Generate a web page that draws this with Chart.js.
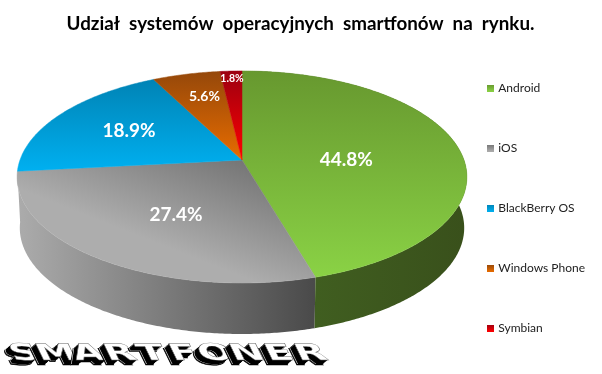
<!DOCTYPE html>
<html>
<head>
<meta charset="utf-8">
<script src="https://cdn.jsdelivr.net/npm/chart.js@4"></script>
<style>
    body { margin: 0; background: #fff; }
</style>
</head>
<body>
<canvas id="chart1" width="602" height="374"></canvas>
<script>
const TITLE = 'Udział  systemów  operacyjnych  smartfonów  na  rynku.';
const LOGO = 'SMARTFONER';
const labels = ['Android', 'iOS', 'BlackBerry OS', 'Windows Phone', 'Symbian'];
const shares = [44.8, 27.4, 18.9, 5.6, 1.8];
const shareLabels = ['44.8%', '27.4%', '18.9%', '5.6%', '1.8%'];

// top surface gradient, dark end and light end
const darkColors = ['#67982f', '#757575', '#0083b5', '#95480a', '#9c0010'];
const lightColors = ['#8ad245', '#adadad', '#00b0f0', '#e86c00', '#ff0000'];
const labelSizes = [19, 19, 19, 14, 10.5];
const labelReach = [0.47, 0.52, 0.6, 0.7, 0.9];
const labelNudgeX = [2, 3, -1, 3, 0];
const labelNudgeY = [7, 7, -1, -1, 0];

// tilted disc, the pivot sits above the middle of the ellipse
const CX = 242, CY = 160, RX = 222, RY = 103.3, TILT = -0.16, DEPTH = 51;

function project(angle, reach) {
    const x = Math.cos(angle) * reach, y = Math.sin(angle) * reach;
    const w = 1 + TILT * y;
    return { x: CX + RX * x / w, y: CY + RY * y / w };
}

function rimPoints(arc) {
    const pts = [];
    const steps = Math.ceil((arc.endAngle - arc.startAngle) / 0.01);
    for (let i = 0; i <= steps; i++) {
        pts.push(project(arc.startAngle + (arc.endAngle - arc.startAngle) * i / steps, 1));
    }
    return pts;
}

function legendSwatch(i) {
    const c = document.createElement('canvas');
    c.width = 7; c.height = 7;
    const g = c.getContext('2d');
    const grad = g.createLinearGradient(0, 0, 0, 7);
    grad.addColorStop(0, darkColors[i]);
    grad.addColorStop(1, lightColors[i]);
    g.fillStyle = grad;
    g.fillRect(0, 0, 7, 7);
    return c;
}

function drawWall(ctx, arc, from, to, x0, x1) {
    const pts = rimPoints(arc);
    const grad = ctx.createLinearGradient(x0, 0, x1, 0);
    grad.addColorStop(0, from);
    grad.addColorStop(1, to);
    ctx.beginPath();
    pts.forEach((p, i) => i ? ctx.lineTo(p.x, p.y) : ctx.moveTo(p.x, p.y));
    pts.reverse().forEach(p => ctx.lineTo(CX + (p.x - CX) * 0.988, p.y + DEPTH));
    ctx.closePath();
    ctx.fillStyle = grad;
    ctx.fill();
}

function drawLogo(ctx) {
    ctx.save();
    ctx.font = 'bold 25px "DejaVu Sans"';
    ctx.textAlign = 'center';
    ctx.textBaseline = 'alphabetic';
    LOGO.split('').forEach((ch, i) => {
        ctx.save();
        ctx.translate(28 + i * 31.8, 360);
        ctx.transform(1.6, 0, 0.45, 0.92, 0, 0);
        ctx.lineWidth = 0.6;
        // white rim behind the black block
        ctx.fillStyle = ctx.strokeStyle = '#000';
        ctx.fillText(ch, -5, 5.5);
        ctx.strokeText(ch, -5, 5.5);
        ctx.fillStyle = ctx.strokeStyle = '#fff';
        ctx.fillText(ch, -4.5, 4.8);
        for (let d = 4; d > 0; d--) {
            ctx.fillStyle = ctx.strokeStyle = '#000';
            ctx.fillText(ch, -d, d);
        }
        ctx.fillStyle = '#fff';
        ctx.strokeStyle = '#666';
        ctx.lineWidth = 0.4;
        ctx.fillText(ch, 0, 0);
        ctx.strokeText(ch, 0, 0);
        ctx.restore();
    });
    ctx.restore();
}

const tiltedPie = {
    id: 'tiltedPie',
    // the arcs keep their angles from the library, only the drawing is tilted
    beforeDatasetDraw(chart) {
        const ctx = chart.ctx;
        const arcs = chart.getDatasetMeta(0).data;
        ctx.save();
        drawWall(ctx, arcs[1], '#ababab', '#4a4a4a', 20, 314);
        drawWall(ctx, arcs[0], '#405e20', '#39501b', 314, 467);

        arcs.forEach((arc, i) => {
            const pts = rimPoints(arc);
            const ys = pts.map(p => p.y).concat(CY);
            const grad = i === 1
                ? ctx.createLinearGradient(245, 160, 205, 262)
                : ctx.createLinearGradient(0, Math.min(...ys), 0, Math.max(...ys));
            grad.addColorStop(0, darkColors[i]);
            grad.addColorStop(1, lightColors[i]);
            ctx.beginPath();
            ctx.moveTo(CX, CY);
            pts.forEach(p => ctx.lineTo(p.x, p.y));
            ctx.closePath();
            ctx.fillStyle = grad;
            ctx.strokeStyle = grad;
            ctx.lineWidth = 0.5;
            ctx.fill();
            ctx.stroke();
        });

        ctx.fillStyle = '#fff';
        ctx.textAlign = 'center';
        ctx.textBaseline = 'middle';
        arcs.forEach((arc, i) => {
            const p = project((arc.startAngle + arc.endAngle) / 2, labelReach[i]);
            ctx.font = 'bold ' + labelSizes[i] + 'px Lato';
            ctx.fillText(shareLabels[i], p.x + labelNudgeX[i], p.y + labelNudgeY[i]);
        });
        ctx.restore();
        return false;
    },
    afterDraw(chart) {
        drawLogo(chart.ctx);
    }
};

new Chart(document.getElementById('chart1').getContext('2d'), {
    type: 'pie',
    data: {
        labels: labels,
        datasets: [{
            data: shares,
            backgroundColor: lightColors,
            borderWidth: 0
        }]
    },
    options: {
        responsive: false,
        animation: false,
        layout: { padding: { left: 6, right: 7, bottom: -8 } },
        plugins: {
            tooltip: { enabled: false },
            title: {
                display: true,
                text: TITLE,
                color: '#000',
                font: { family: 'Lato', size: 18.8, weight: 'bold' },
                padding: { top: 13, bottom: 5 }
            },
            legend: {
                position: 'right',
                align: 'end',
                labels: {
                    color: '#222',
                    font: { family: 'Lato', size: 12 },
                    padding: 48,
                    usePointStyle: true,
                    pointStyleWidth: 3,
                    generateLabels(chart) {
                        return labels.map((text, i) => ({
                            text: text,
                            fontColor: '#222',
                            pointStyle: legendSwatch(i),
                            lineWidth: 0,
                            index: i
                        }));
                    }
                }
            }
        }
    },
    plugins: [tiltedPie]
});
</script>
</body>
</html>
